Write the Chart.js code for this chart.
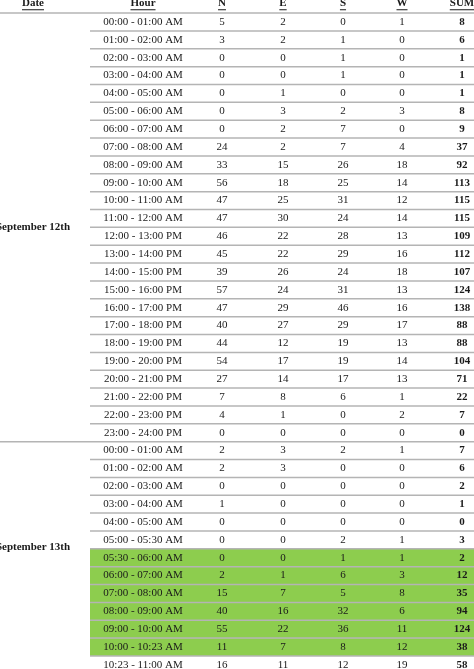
<!DOCTYPE html>
<html><head><meta charset="utf-8">
<script src="https://cdn.jsdelivr.net/npm/chart.js@4"></script>
<style>html,body{margin:0;padding:0;background:#fff}#w{width:474px;height:669px}</style>
</head><body><div id="w"><canvas id="c"></canvas></div>
<script>
const headers = ["Date","Hour","N","E","S","W","SUM"];
const dates = ["September 12th","September 13th"];
const hours12 = ["00:00 - 01:00 AM","01:00 - 02:00 AM","02:00 - 03:00 AM","03:00 - 04:00 AM","04:00 - 05:00 AM","05:00 - 06:00 AM","06:00 - 07:00 AM","07:00 - 08:00 AM","08:00 - 09:00 AM","09:00 - 10:00 AM","10:00 - 11:00 AM","11:00 - 12:00 AM","12:00 - 13:00 PM","13:00 - 14:00 PM","14:00 - 15:00 PM","15:00 - 16:00 PM","16:00 - 17:00 PM","17:00 - 18:00 PM","18:00 - 19:00 PM","19:00 - 20:00 PM","20:00 - 21:00 PM","21:00 - 22:00 PM","22:00 - 23:00 PM","23:00 - 24:00 PM"];
const hours13 = ["00:00 - 01:00 AM","01:00 - 02:00 AM","02:00 - 03:00 AM","03:00 - 04:00 AM","04:00 - 05:00 AM","05:00 - 05:30 AM","05:30 - 06:00 AM","06:00 - 07:00 AM","07:00 - 08:00 AM","08:00 - 09:00 AM","09:00 - 10:00 AM","10:00 - 10:23 AM","10:23 - 11:00 AM"];
const N12 = [5,3,0,0,0,0,0,24,33,56,47,47,46,45,39,57,47,40,44,54,27,7,4,0];
const E12 = [2,2,0,0,1,3,2,2,15,18,25,30,22,22,26,24,29,27,12,17,14,8,1,0];
const S12 = [0,1,1,1,0,2,7,7,26,25,31,24,28,29,24,31,46,29,19,19,17,6,0,0];
const W12 = [1,0,0,0,0,3,0,4,18,14,12,14,13,16,18,13,16,17,13,14,13,1,2,0];
const SUM12 = [8,6,1,1,1,8,9,37,92,113,115,115,109,112,107,124,138,88,88,104,71,22,7,0];
const N13 = [2,2,0,1,0,0,0,2,15,40,55,11,16];
const E13 = [3,3,0,0,0,0,0,1,7,16,22,7,11];
const S13 = [2,0,0,0,0,2,1,6,5,32,36,8,12];
const W13 = [1,0,0,0,0,1,1,3,8,6,11,12,19];
const SUM13 = [7,6,2,1,0,3,2,12,35,94,124,38,58];
const highlighted13 = [6,7,8,9,10,11];

const colX = [33,143,222,283,343,402,462];
const rows = [];
hours12.forEach((h,i)=>rows.push({date:0,h,v:[N12[i],E12[i],S12[i],W12[i],SUM12[i]],hl:false}));
hours13.forEach((h,i)=>rows.push({date:1,h,v:[N13[i],E13[i],S13[i],W13[i],SUM13[i]],hl:highlighted13.includes(i)}));

const tablePlugin = {
  id:'table',
  beforeDatasetsDraw(chart){
    const ctx=chart.ctx, x=chart.scales.x, y=chart.scales.y;
    ctx.save();
    rows.forEach((r,i)=>{
      if(r.hl){
        ctx.fillStyle='#8dcd4e';
        const t=y.getPixelForValue(i-0.5), b=y.getPixelForValue(i+0.5);
        ctx.fillRect(x.getPixelForValue(90),t,x.getPixelForValue(474)-x.getPixelForValue(90),b-t);
      }
    });
    // lines
    ctx.strokeStyle='#b4b4b4'; ctx.lineWidth=1.5;
    const line=(yy,x0)=>{ctx.beginPath();ctx.moveTo(x.getPixelForValue(x0),yy);ctx.lineTo(x.getPixelForValue(474),yy);ctx.stroke();};
    line(y.getPixelForValue(-0.5),0);
    rows.forEach((r,i)=>{
      if(i===rows.length-1) return;
      const full = rows[i+1].date!==r.date;
      line(y.getPixelForValue(i+0.5), full?0:90);
    });
    ctx.restore();
  },
  afterDatasetsDraw(chart){
    const ctx=chart.ctx, x=chart.scales.x, y=chart.scales.y;
    ctx.save();
    ctx.textAlign='center'; ctx.textBaseline='middle'; ctx.fillStyle='#1a1a1a';
    ctx.font='bold 11px "Liberation Serif"';
    const hy=y.getPixelForValue(-1.05);
    headers.forEach((h,j)=>{
      const px=x.getPixelForValue(colX[j]);
      ctx.fillText(h,px,hy);
      const w=ctx.measureText(h).width;
      ctx.fillRect(px-w/2,hy+6,w,1);
    });
    dates.forEach((d,k)=>{
      const idx=rows.map((r,i)=>r.date===k?i:-1).filter(i=>i>=0);
      const mid=(idx[0]+idx[idx.length-1])/2;
      ctx.font='bold 11px "Liberation Serif"';
      ctx.fillText(d,x.getPixelForValue(colX[0]),y.getPixelForValue(k===0?mid:29.4));
    });
    rows.forEach((r,i)=>{
      const py=y.getPixelForValue(i);
      ctx.font='11px "Liberation Serif"';
      ctx.fillText(r.h,x.getPixelForValue(colX[1]),py);
      r.v.forEach((v,j)=>{
        ctx.font=(j===4?'bold ':'')+'11px "Liberation Serif"';
        ctx.fillText(String(v),x.getPixelForValue(colX[j+2]),py);
      });
    });
    ctx.restore();
  }
};

new Chart(document.getElementById('c'),{
  type:'scatter',
  data:{datasets:[{data:rows.map((r,i)=>({x:colX[1],y:i})),pointRadius:0}]},
  options:{
    responsive:true,maintainAspectRatio:false,animation:false,
    layout:{padding:0},
    plugins:{legend:{display:false},tooltip:{enabled:false}},
    scales:{
      x:{type:'linear',min:0,max:474,display:false},
      y:{type:'linear',min:-1.232,max:36.23,reverse:true,display:false}
    }
  },
  plugins:[tablePlugin]
});
</script></body></html>
